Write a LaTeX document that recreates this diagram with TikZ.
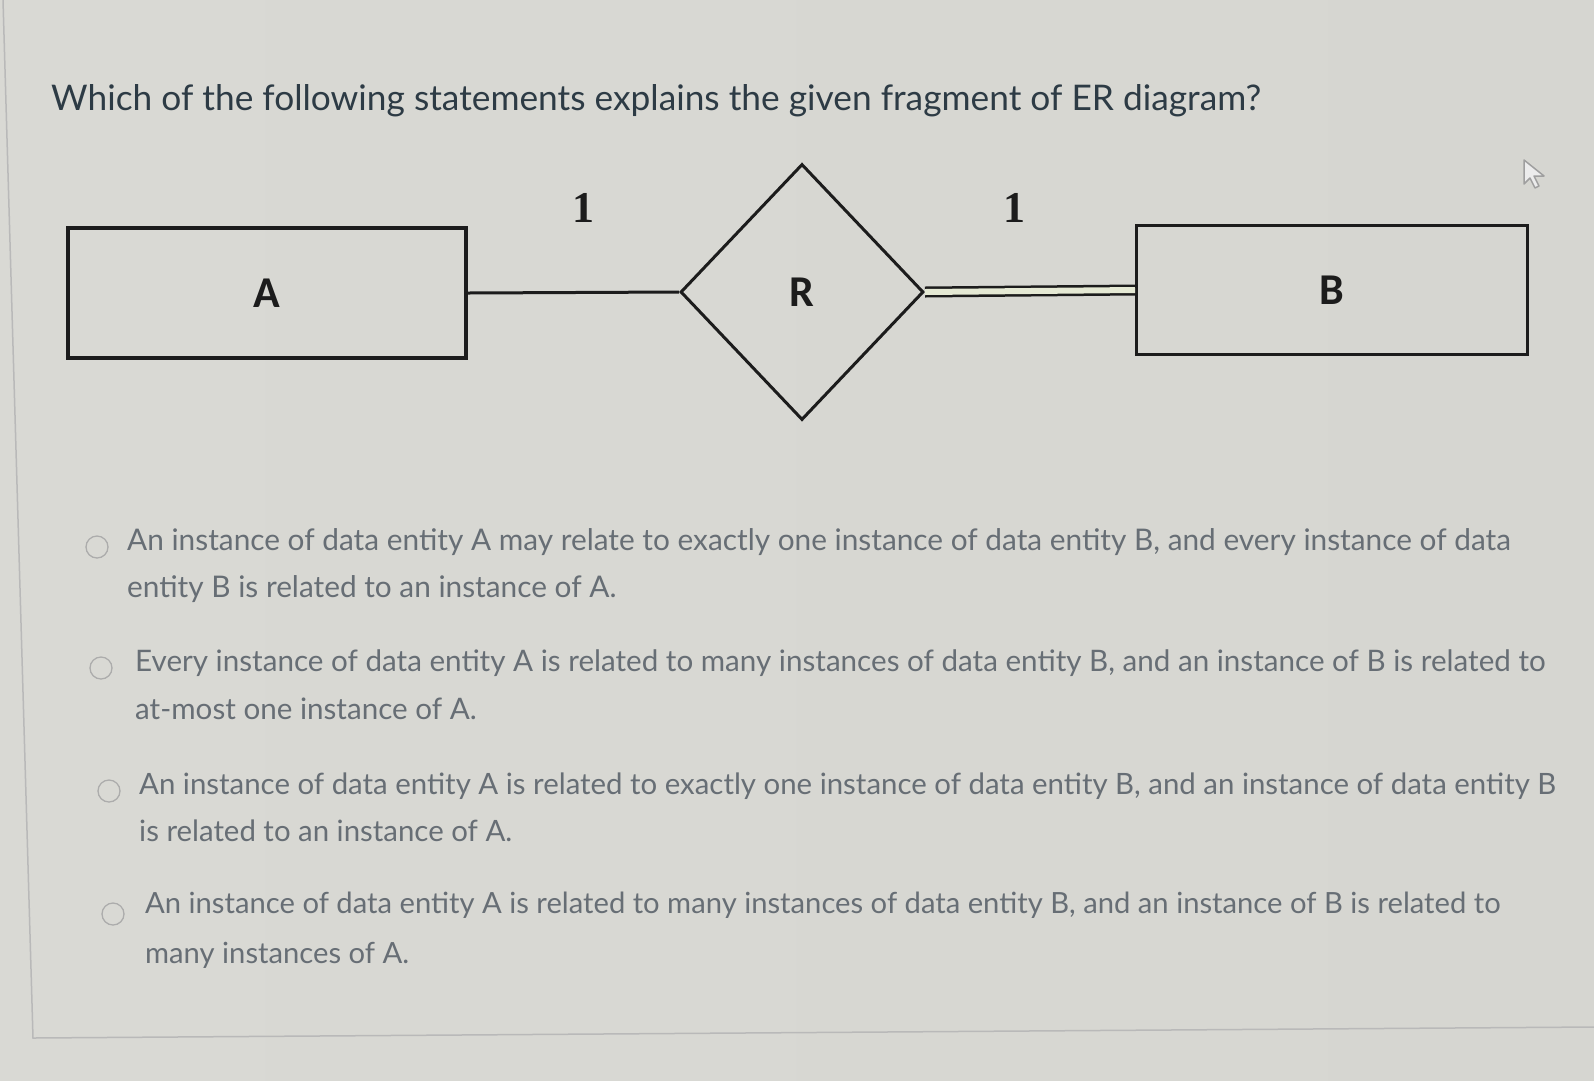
\documentclass[tikz,border=0pt]{standalone}
\usepackage{fontspec}
\setmainfont{Lato}
\newfontfamily\erfont{Carlito}
\newfontfamily\cardfont{Liberation Serif}
\usetikzlibrary{positioning, shapes.geometric}

\definecolor{bgleft}{HTML}{D9D9D4}
\definecolor{bgmid}{HTML}{D3DBB8}
\definecolor{bgright}{HTML}{D6D6D1}
\definecolor{titlecol}{HTML}{2D3B45}
\definecolor{optcol}{HTML}{676E75}
\definecolor{inkcol}{HTML}{1C1C1C}

\begin{document}
\begin{tikzpicture}[x=1pt, y=-1pt,
    entity/.style={draw=inkcol, rectangle, inner sep=0pt, text=inkcol,
        font=\erfont\bfseries\fontsize{44}{44}\selectfont},
    relship/.style={draw=inkcol, line width=3pt, diamond, inner sep=0pt,
        minimum width=243pt, minimum height=256pt, text=inkcol,
        font=\erfont\bfseries\fontsize{44}{44}\selectfont},
    card/.style={text=inkcol, font=\cardfont\bfseries\fontsize{44}{44}\selectfont},
    radio/.style={draw=gray!65, line width=1.3pt, circle, minimum size=22pt, inner sep=0pt},
    opttext/.style={anchor=base west, inner sep=0pt, text=optcol,
        font=\fontsize{#1}{#1}\selectfont},
]
    % screen background
    \shade[left color=bgleft, middle color=bgmid, right color=bgright]
        (0,0) rectangle (1594,1080);
    \useasboundingbox (0,0) rectangle (1594,1080);
    \draw[gray!55, line width=1.5pt] (3,0) -- (33,1038) -- (1594,1027);

    % question
    \node[anchor=base west, inner sep=0pt, text=titlecol,
        font=\fontsize{35.3}{35.3}\selectfont] (q) at (51,110)
        {Which of the following statements explains the given fragment of ER diagram?};

    % ER fragment
    \node[entity, line width=4pt, minimum width=398pt, minimum height=130pt] (A) at (267,293) {A};
    \node[relship] (R) at (802,292) {R};
    \node[entity, line width=3pt, minimum width=391pt, minimum height=129pt] (B) at (1332,290) {B};

    \draw[inkcol, line width=3pt] (A.east) -- (R.west);
    \draw[inkcol, line width=2.5pt, double=bgmid!60!white, double distance=6pt] (R.east) -- (B.west);

    \node[card] (c1) at (583,208) {1};
    \node[card] (c2) at (1014,208) {1};

    % mouse pointer
    \draw[gray!75, fill=white!85!gray, line width=1.5pt, line join=round]
        (1524,160) -- ++(0,24) -- ++(6,-6) -- ++(5,10) -- ++(4,-2)
        -- ++(-5,-10) -- ++(10,0) -- cycle;

    % answer options
    \node[radio] (r1) at (97,547) {};
    \node[opttext=29.8] (t1) at (127,550)
        {An instance of data entity A may relate to exactly one instance of data entity B, and every instance of data};
    \node[opttext=29.8] (t1b) at ([yshift=-47pt]t1.base west)
        {entity B is related to an instance of A.};

    \node[radio] (r2) at (101,668) {};
    \node[opttext=29.6] (t2) at (135,671)
        {Every instance of data entity A is related to many instances of data entity B, and an instance of B is related to};
    \node[opttext=29.6] (t2b) at ([yshift=-48pt]t2.base west)
        {at-most one instance of A.};

    \node[radio] (r3) at (109,791) {};
    \node[opttext=29.4] (t3) at (139,794)
        {An instance of data entity A is related to exactly one instance of data entity B, and an instance of data entity B};
    \node[opttext=29.4] (t3b) at ([yshift=-47pt]t3.base west)
        {is related to an instance of A.};

    \node[radio] (r4) at (113,914) {};
    \node[opttext=29.2] (t4) at (145,913)
        {An instance of data entity A is related to many instances of data entity B, and an instance of B is related to};
    \node[opttext=29.2] (t4b) at ([yshift=-50pt]t4.base west)
        {many instances of A.};
\end{tikzpicture}
\end{document}
